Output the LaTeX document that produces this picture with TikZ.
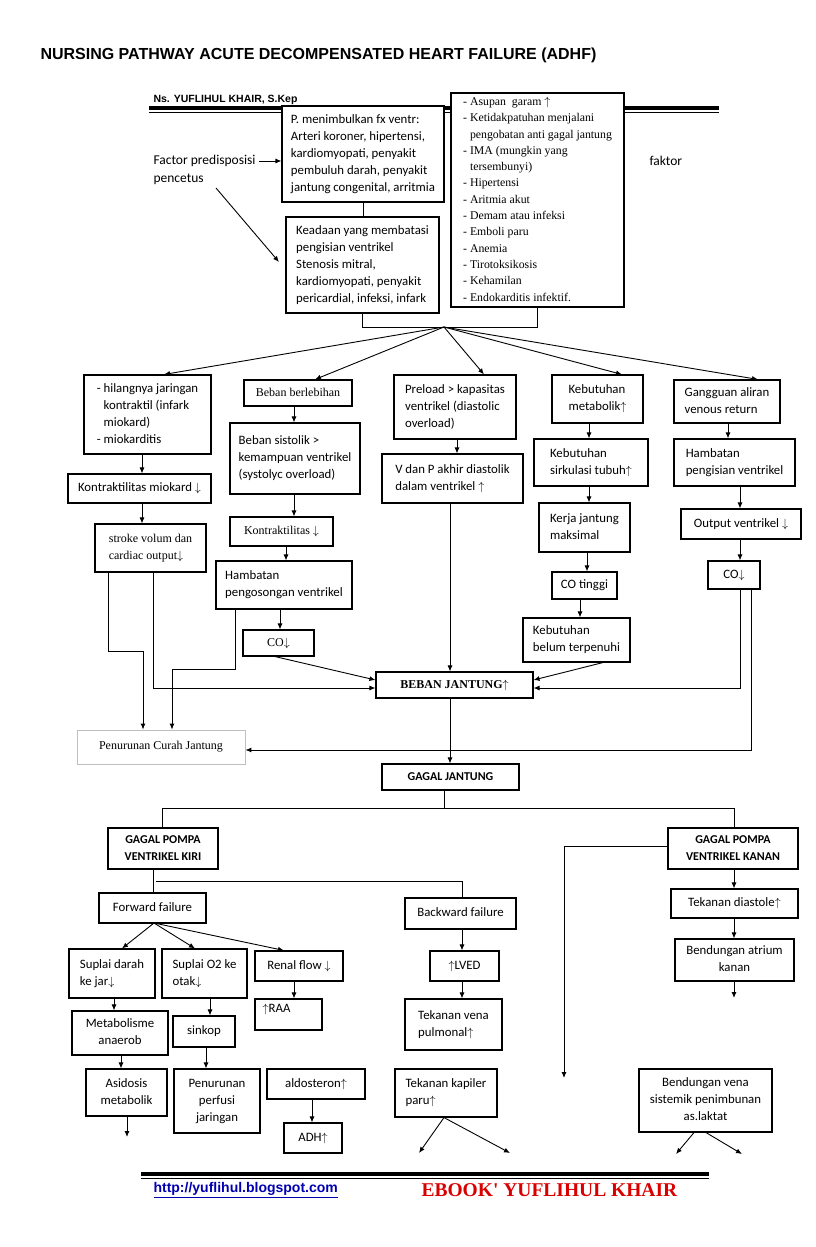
\documentclass[tikz,border=0pt]{standalone}
\usepackage{fontspec}
\setmainfont{Carlito}
\newfontfamily\tnr{Liberation Serif}
\newfontfamily\ars{Liberation Sans}
\usetikzlibrary{fit,arrows.meta}
\newcommand\bx[7][]{\node[box,fit={(#3,#4)(#5,#6)}] (#2) {};\node[txt,#1] (#2-t) at (#2.center) {\begin{tabular}{@{}l@{}}#7\end{tabular}};}
\newcommand\bc[7][]{\node[box,fit={(#3,#4)(#5,#6)}] (#2) {};\node[txt,#1] (#2-t) at (#2.center) {\begin{tabular}{@{}c@{}}#7\end{tabular}};}
\begin{document}
\begin{tikzpicture}[x=1pt,y=-1pt,
 box/.style={draw,line width=1.1pt,fill=white,inner sep=0pt},
 txt/.style={inner sep=0pt,font=\fontsize{12.8}{17}\selectfont},
 tm/.style={font=\tnr\fontsize{12}{17}\selectfont},
 bf/.style={font=\bfseries\fontsize{12}{17}\selectfont},
 ar/.style={line width=0.9pt,-{Latex[length=6pt,width=5pt]}},
 ln/.style={line width=0.9pt}]
\useasboundingbox[fill=white] (0,0) rectangle (816,1247);
\node[anchor=west,font=\ars\bfseries\fontsize{16}{18}\selectfont] (title) at (37,55) {NURSING PATHWAY ACUTE DECOMPENSATED HEART FAILURE (ADHF)};
\node[anchor=west,font=\ars\bfseries\fontsize{10.5}{13}\selectfont] (author) at (150,100) {Ns. YUFLIHUL KHAIR, S.Kep};
\draw[line width=3.5pt] (149,108) -- (719,108);
\draw[line width=0.6pt] (149,112.5) -- (719,112.5);
% top
\bx{P}{282}{106}{444}{202}{P. menimbulkan fx ventr:\\Arteri koroner, hipertensi,\\kardiomyopati, penyakit\\pembuluh darah, penyakit\\jantung congenital, arritmia}
\bx{K}{286}{217}{439}{313}{Keadaan yang membatasi\\pengisian ventrikel\\Stenosis mitral,\\kardiomyopati, penyakit\\pericardial, infeksi, infark}
\bx[font=\tnr\fontsize{11.8}{16.3}\selectfont]{F}{451}{93}{624}{307}{- Asupan\ \ garam $\uparrow$\\- Ketidakpatuhan menjalani\\\phantom{- }pengobatan anti gagal jantung\\- IMA (mungkin yang\\\phantom{- }tersembunyi)\\- Hipertensi\\- Aritmia akut\\- Demam atau infeksi\\- Emboli paru\\- Anemia\\- Tirotoksikosis\\- Kehamilan\\- Endokarditis infektif.}
\node[anchor=west,font=\fontsize{13.5}{15}\selectfont] (fp) at (150,161) {Factor predisposisi};
\node[anchor=west,font=\fontsize{13.5}{15}\selectfont] (pc) at (150,179) {pencetus};
\node[anchor=west,font=\fontsize{13.5}{15}\selectfont] (fk) at (646,161) {faktor};
\draw[ar] (fp.east) -- (P.west |- fp.east);
\coordinate (d1) at (216,188);
\draw[ar] (d1) -- (279,262);
\draw[ln] (P.south) -- (P.south |- K.north);
\coordinate (hub) at (444,327);
\draw[ln] (K.south) -- (K.south |- hub) -- (F.south |- hub) -- (F.south);
% row 1
\bx{b1}{84}{375}{211}{454}{- hilangnya jaringan\\\phantom{- }kontraktil (infark\\\phantom{- }miokard)\\- miokarditis}
\bx[tm]{b2}{244}{380}{352}{406}{Beban berlebihan}
\bx{b3}{394}{375}{516}{439}{Preload > kapasitas\\ventrikel (diastolic\\overload)}
\bx{b4}{552}{375}{643}{423}{Kebutuhan\\metabolik$\uparrow$}
\bx{b5}{674}{380}{780}{423}{Gangguan aliran\\venous return}
\draw[ar] (hub) -- (164,0 |- b1.north);
\draw[ar] (hub) -- (315,0 |- b2.north);
\draw[ar] (hub) -- (484,0 |- b3.north);
\draw[ar] (hub) -- (622,0 |- b4.north);
\draw[ar] (hub) -- (758,0 |- b5.north);
% column 1
\bx{km}{68}{474}{211}{503}{Kontraktilitas miokard $\downarrow$}
\bx[tm]{sv}{95}{524}{206}{572}{stroke volum dan\\cardiac output$\downarrow$}
\draw[ar] (142,0 |- b1.south) -- (142,0 |- km.north);
\draw[ar] (142,0 |- km.south) -- (142,0 |- sv.north);
% column 2
\bx{bs}{230}{423}{360}{494}{Beban sistolik >\\kemampuan ventrikel\\(systolyc overload)}
\bx[tm]{kt}{230}{517}{333}{546}{Kontraktilitas $\downarrow$}
\bx{hp}{216}{561}{352}{609}{Hambatan\\pengosongan ventrikel}
\bc[tm]{co1}{243}{630}{314}{656}{CO$\downarrow$}
\draw[ar] (294,0 |- b2.south) -- (294,0 |- bs.north);
\draw[ar] (294,0 |- bs.south) -- (294,0 |- kt.north);
\draw[ar] (286,0 |- kt.south) -- (286,0 |- hp.north);
\draw[ar] (280,0 |- hp.south) -- (280,0 |- co1.north);
% column 3
\bx{vp}{382}{454}{523}{503}{V dan P akhir diastolik\\dalam ventrikel $\uparrow$}
\draw[ar] (457,0 |- b3.south) -- (457,0 |- vp.north);
% column 4
\bx{ks}{534}{439}{648}{486}{Kebutuhan\\sirkulasi tubuh$\uparrow$}
\bx{kj}{539}{503}{630}{552}{Kerja jantung\\maksimal}
\bc{cot}{552}{572}{617}{599}{CO tinggi}
\bx{kb}{523}{618}{630}{662}{Kebutuhan\\belum terpenuhi}
\draw[ar] (589,0 |- b4.south) -- (589,0 |- ks.north);
\draw[ar] (589,0 |- ks.south) -- (589,0 |- kj.north);
\draw[ar] (587,0 |- kj.south) -- (587,0 |- cot.north);
\draw[ar] (580,0 |- cot.south) -- (580,0 |- kb.north);
% column 5
\bx{hpi}{674}{439}{795}{486}{Hambatan\\pengisian ventrikel}
\bc{ov}{681}{509}{801}{539}{Output ventrikel $\downarrow$}
\bc{co2}{708}{561}{760}{589}{CO$\downarrow$}
\draw[ar] (728,0 |- b5.south) -- (728,0 |- hpi.north);
\draw[ar] (740,0 |- hpi.south) -- (740,0 |- ov.north);
\draw[ar] (740,0 |- ov.south) -- (740,0 |- co2.north);
% beban jantung
\bc[font=\tnr\bfseries\fontsize{12}{17}\selectfont]{bj}{376}{672}{533}{698}{BEBAN JANTUNG$\uparrow$}
\node[draw=black!25,line width=0.8pt,fit={(77,730)(245,764)},inner sep=0pt] (pcj) {};
\node[txt,tm] (pcj-t) at (pcj.center) {Penurunan Curah Jantung};
\draw[ar] (450,0 |- vp.south) -- (450,0 |- bj.north);
\draw[ar] (275,0 |- co1.south) -- (bj.west |- 0,680);
\draw[ar] (603,0 |- kb.south) -- (bj.east |- 0,680);
\draw[ar] (740,0 |- co2.south) -- (740,688) -- (bj.east |- 0,688);
\draw[ar] (751,0 |- co2.south) -- (751,750) -- (pcj.east |- 0,750);
\draw[ar] (153,0 |- sv.south) -- (153,688) -- (bj.west |- 0,688);
\draw[ar] (108,0 |- sv.south) -- (108,651) -- (143,651) -- (143,0 |- pcj.north);
\draw[ar] (235,0 |- hp.south) -- (235,669) -- (172,669) -- (172,0 |- pcj.north);
% gagal jantung
\bc[bf]{gj}{382}{764}{519}{790}{GAGAL JANTUNG}
\draw[ar] (450,0 |- bj.south) -- (450,0 |- gj.north);
\bc[bf]{gk}{108}{828}{218}{869}{GAGAL POMPA\\VENTRIKEL KIRI}
\bc[bf]{gr}{668}{828}{798}{869}{GAGAL POMPA\\VENTRIKEL KANAN}
\draw[ln] (444,0 |- gj.south) -- (444,808);
\draw[ln] (162,0 |- gk.north) -- (162,808) -- (734,808) -- (734,0 |- gr.north);
\draw[ar] (gr.west |- 0,846) -- (564,846) -- (564,1078);
% left branch
\bc{ff}{99}{893}{206}{923}{Forward failure}
\bc{bwf}{405}{898}{516}{929}{Backward failure}
\draw[ln] (153,0 |- gk.south) -- (153,0 |- ff.north);
\draw[ln] (156,881) -- (462,881) -- (462,0 |- bwf.north);
\bx{sd}{69}{949}{155}{998}{Suplai darah\\ke jar$\downarrow$}
\bx{so}{162}{949}{247}{998}{Suplai O2 ke\\otak$\downarrow$}
\bc{rf}{255}{951}{343}{981}{Renal flow $\downarrow$}
\coordinate (ffs) at (154,923);
\draw[ar] (ffs) -- (122,0 |- sd.north);
\draw[ar] (ffs) -- (195,0 |- so.north);
\draw[ar] (ffs) -- (284,0 |- rf.north);
\node[box,fit={(255,999)(322,1030)}] (raa) {};
\node[txt,anchor=north west] (raa-t) at ([xshift=8pt,yshift=-6pt]raa.north west) {$\uparrow$RAA};
\draw[ar] (294,0 |- rf.south) -- (294,0 |- raa.north);
\bc{ma}{72}{1011}{168}{1055}{Metabolisme\\anaerob}
\bc{sk}{173}{1016}{235}{1047}{sinkop}
\draw[ar] (114,0 |- sd.south) -- (114,0 |- ma.north);
\draw[ar] (210,0 |- so.south) -- (210,0 |- sk.north);
\bc{as}{86}{1069}{167}{1116}{Asidosis\\metabolik}
\draw[ar] (121,0 |- ma.south) -- (121,0 |- as.north);
\draw[ar] (127,0 |- as.south) -- (127,1137);
\bc{pp}{174}{1069}{260}{1133}{Penurunan\\perfusi\\jaringan}
\draw[ar] (206,0 |- sk.south) -- (206,0 |- pp.north);
\bc{al}{267}{1069}{365}{1099}{aldosteron$\uparrow$}
\bc{adh}{284}{1123}{342}{1153}{ADH$\uparrow$}
\draw[ar] (312,0 |- al.south) -- (312,0 |- adh.north);
% backward
\bc{lv}{430}{951}{499}{981}{$\uparrow$LVED}
\bx{tv}{405}{999}{502}{1050}{Tekanan vena\\pulmonal$\uparrow$}
\bx{tk}{395}{1069}{497}{1117}{Tekanan kapiler\\paru$\uparrow$}
\draw[ar] (462,0 |- bwf.south) -- (462,0 |- lv.north);
\draw[ar] (462,0 |- lv.south) -- (462,0 |- tv.north);
\coordinate (tka) at (419,1153);
\coordinate (tkb) at (510,1153);
\draw[ar] (444,0 |- tk.south) -- (tka);
\draw[ar] (444,0 |- tk.south) -- (tkb);
% right branch
\bc{td}{671}{889}{798}{918}{Tekanan diastole$\uparrow$}
\bc{ba}{675}{939}{794}{981}{Bendungan atrium\\kanan}
\draw[ar] (734,0 |- gr.south) -- (734,0 |- td.north);
\draw[ar] (734,0 |- td.south) -- (734,0 |- ba.north);
\draw[ar] (734,0 |- ba.south) -- (734,998);
\bc{bv}{639}{1069}{772}{1132}{Bendungan vena\\sistemik penimbunan\\as.laktat}
\coordinate (bva) at (676,1154);
\coordinate (bvb) at (742,1154);
\draw[ar] (694,0 |- bv.south) -- (bva);
\draw[ar] (706,0 |- bv.south) -- (bvb);
% footer
\draw[line width=3.5pt] (141,1174) -- (709,1174);
\draw[line width=0.6pt] (141,1178.5) -- (709,1178.5);
\node[anchor=west,text=blue!70!black,font=\ars\bfseries\fontsize{14}{16}\selectfont] (url) at (150,1190) {\underline{http://yuflihul.blogspot.com}};
\node[anchor=west,text=red!85!black,font=\tnr\bfseries\fontsize{19.5}{21}\selectfont] (eb) at (418,1190) {EBOOK' YUFLIHUL KHAIR};
\end{tikzpicture}
\end{document}
